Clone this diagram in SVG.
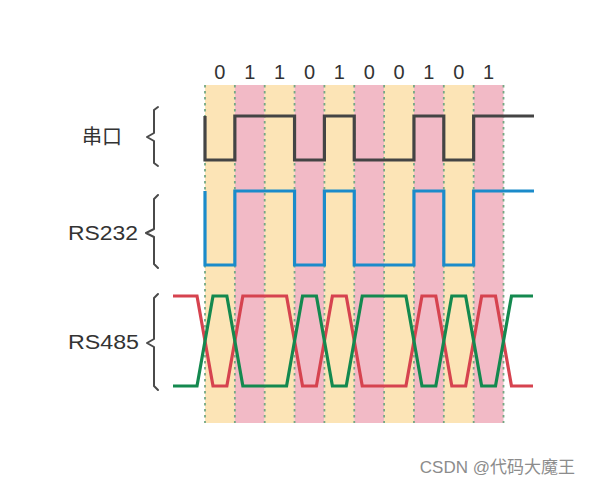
<svg xmlns="http://www.w3.org/2000/svg" width="594" height="486" viewBox="0 0 594 486">
<style>
.y{fill:#fce4b6}
.p{fill:#f2bac6}
.grid line{stroke:#74a884;stroke-width:1.8;stroke-dasharray:2.5 3.5}
.bit{font-family:"Liberation Sans",Arial,sans-serif;font-size:20px;fill:#333;text-anchor:middle}
.lbl{font-family:"Liberation Sans","Noto Sans CJK SC",sans-serif;font-size:20px;fill:#333}
.brace{fill:none;stroke:#4a4a4a;stroke-width:2;stroke-linejoin:round;stroke-linecap:round}
.sig{fill:none;stroke-width:3.2;stroke-linejoin:miter}
</style>
<rect width="594" height="486" fill="#fff"/>
<g id="stripes">
<rect class="y" x="205" y="85" width="29.85" height="338"/>
<rect class="p" x="234.85" y="85" width="29.85" height="338"/>
<rect class="y" x="264.7" y="85" width="29.85" height="338"/>
<rect class="p" x="294.55" y="85" width="29.85" height="338"/>
<rect class="y" x="324.4" y="85" width="29.85" height="338"/>
<rect class="p" x="354.25" y="85" width="29.85" height="338"/>
<rect class="y" x="384.1" y="85" width="29.85" height="338"/>
<rect class="p" x="413.95" y="85" width="29.85" height="338"/>
<rect class="y" x="443.8" y="85" width="29.85" height="338"/>
<rect class="p" x="473.65" y="85" width="29.85" height="338"/>
</g>
<g id="grid" class="grid">
<line x1="205" y1="85" x2="205" y2="423"/>
<line x1="234.85" y1="85" x2="234.85" y2="423"/>
<line x1="264.7" y1="85" x2="264.7" y2="423"/>
<line x1="294.55" y1="85" x2="294.55" y2="423"/>
<line x1="324.4" y1="85" x2="324.4" y2="423"/>
<line x1="354.25" y1="85" x2="354.25" y2="423"/>
<line x1="384.1" y1="85" x2="384.1" y2="423"/>
<line x1="413.95" y1="85" x2="413.95" y2="423"/>
<line x1="443.8" y1="85" x2="443.8" y2="423"/>
<line x1="473.65" y1="85" x2="473.65" y2="423"/>
<line x1="503.5" y1="85" x2="503.5" y2="423"/>
</g>
<g id="bits">
<text class="bit" x="219.9" y="79">0</text>
<text class="bit" x="249.8" y="79">1</text>
<text class="bit" x="279.6" y="79">1</text>
<text class="bit" x="309.5" y="79">0</text>
<text class="bit" x="339.3" y="79">1</text>
<text class="bit" x="369.2" y="79">0</text>
<text class="bit" x="399" y="79">0</text>
<text class="bit" x="428.9" y="79">1</text>
<text class="bit" x="458.7" y="79">0</text>
<text class="bit" x="488.6" y="79">1</text>
</g>
<g id="serial">
<text class="lbl" x="82" y="144" font-size="21">串口</text>
<path class="brace" d="M158,107 L154,110 V133 L147,137 L154,141 V163 L158,166"/>
<path class="sig" stroke="#444" d="M205,116 V160 H234.85 V116 H294.55 V160 H324.4 V116 H354.25 V160 H413.95 V116 H443.8 V160 H473.65 V116 H534"/>
</g>
<g id="rs232">
<text class="lbl" x="68" y="240" textLength="70" lengthAdjust="spacingAndGlyphs">RS232</text>
<path class="brace" d="M158,195 L154,199 V229 L146,233 L154,237 V264 L158,268"/>
<path class="sig" stroke="#1b8bca" d="M205,191 V265 H234.85 V191 H294.55 V265 H324.4 V191 H354.25 V265 H413.95 V191 H443.8 V265 H473.65 V191 H534"/>
</g>
<g id="rs485">
<text class="lbl" x="68" y="349" textLength="71" lengthAdjust="spacingAndGlyphs">RS485</text>
<path class="brace" d="M158,294 L154,298 V339 L147,343 L154,347 V386 L158,390"/>
<path class="sig" stroke="#d6434f" d="M173,296 H197 L213,386 H226.85 L242.85,296 H286.55 L302.55,386 H316.4 L332.4,296 H346.25 L362.25,386 H405.95 L421.95,296 H435.8 L451.8,386 H465.65 L481.65,296 H495.5 L511.5,386 H533"/>
<path class="sig" stroke="#14894f" d="M173,386 H197 L213,296 H226.85 L242.85,386 H286.55 L302.55,296 H316.4 L332.4,386 H346.25 L362.25,296 H405.95 L421.95,386 H435.8 L451.8,296 H465.65 L481.65,386 H495.5 L511.5,296 H533"/>
</g>
<text x="575" y="473" text-anchor="end" font-family="'Liberation Sans','Noto Sans CJK SC',sans-serif" font-size="17" fill="#8c8c8c">CSDN @代码大魔王</text>
</svg>
